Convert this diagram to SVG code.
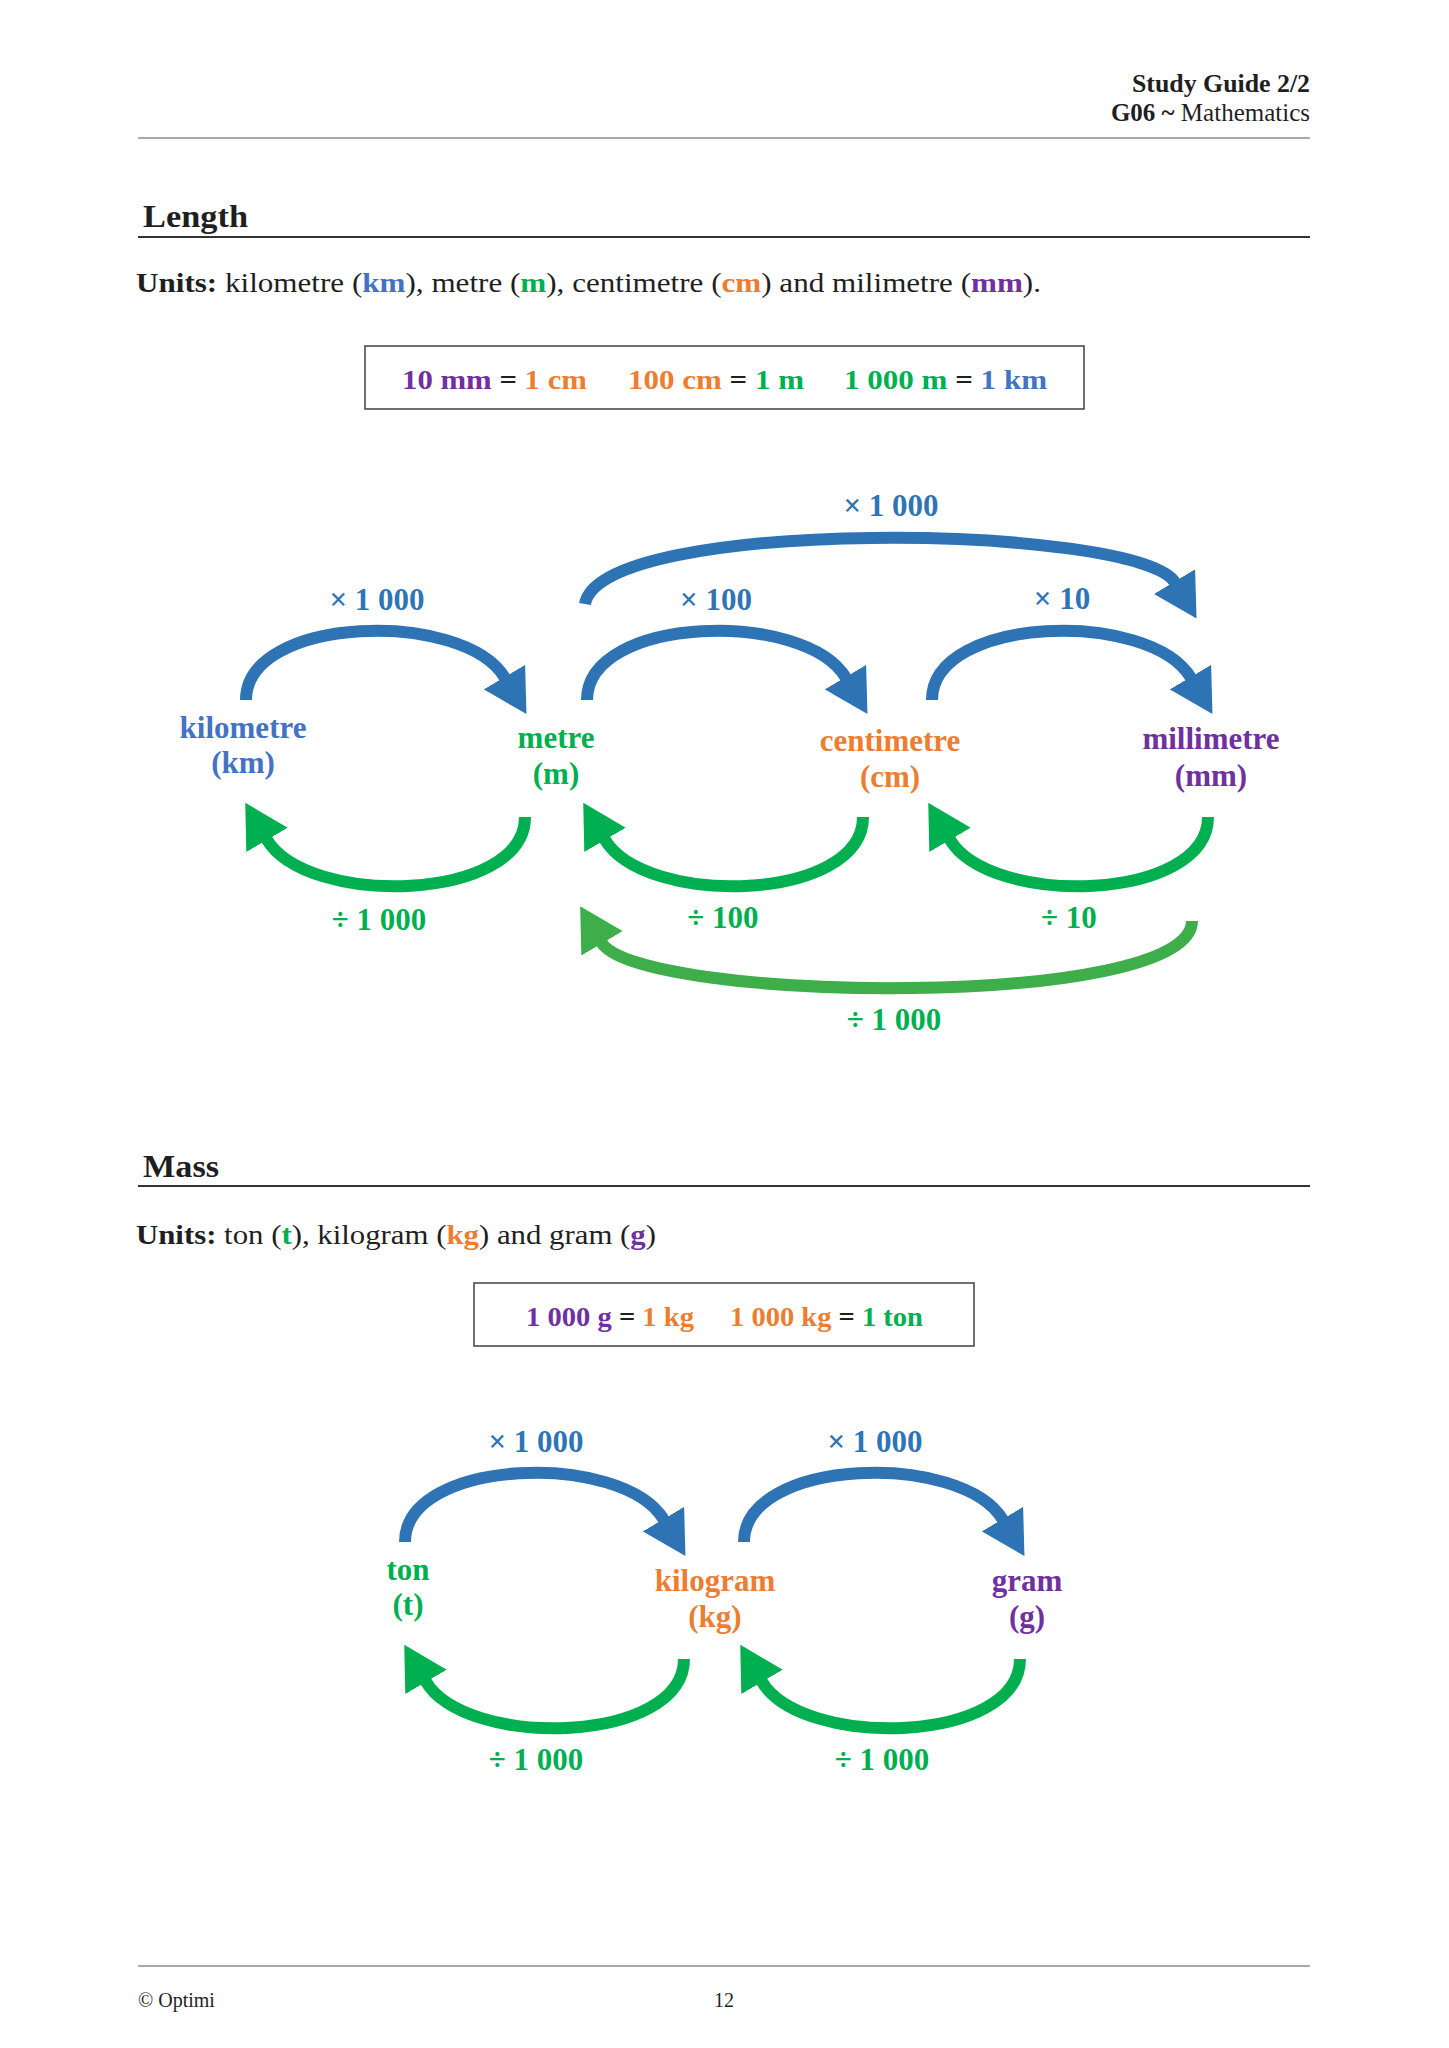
<svg xmlns="http://www.w3.org/2000/svg" width="1449" height="2048" viewBox="0 0 1449 2048">
<defs>
<style>
text{font-family:"Liberation Serif","Times New Roman",serif;fill:#1f1f1f}
.b{font-weight:bold}
.hdr{font-size:25px}
.h{font-size:32px;font-weight:bold}
.body{font-size:27px}
.box{font-size:28px;font-weight:bold}
.lbl{font-size:31px;font-weight:bold;text-anchor:middle}
.ft{font-size:20px}
.c-km{fill:#4472c4}
.c-m{fill:#00b050}
.c-cm{fill:#ed7d31}
.c-mm{fill:#7030a0}
.c-x{fill:#2e75b6}
.c-d{fill:#00b050}
.c-eq{fill:#1f1f1f}
.rule{stroke:#8c8c8c;stroke-width:1.5}
.hrule{stroke:#333333;stroke-width:1.8}
.frame{fill:none;stroke:#404040;stroke-width:1.5}
.arc-b{fill:none;stroke:#2e74b5;stroke-width:12;marker-end:url(#ah-b)}
.arc-g{fill:none;stroke:#00b050;stroke-width:12;marker-end:url(#ah-g)}
.arc-lg{fill:none;stroke:#3dae49;stroke-width:12;marker-end:url(#ah-lg)}
</style>
<marker id="ah-b" viewBox="0 -24 43 48" refX="1" refY="0" markerWidth="43" markerHeight="48" markerUnits="userSpaceOnUse" orient="auto"><path d="M0,-24 L43,0 L0,24 Z" fill="#2e74b5"/></marker>
<marker id="ah-g" viewBox="0 -24 43 48" refX="1" refY="0" markerWidth="43" markerHeight="48" markerUnits="userSpaceOnUse" orient="auto"><path d="M0,-24 L43,0 L0,24 Z" fill="#00b050"/></marker>
<marker id="ah-lg" viewBox="0 -24 43 48" refX="1" refY="0" markerWidth="43" markerHeight="48" markerUnits="userSpaceOnUse" orient="auto"><path d="M0,-24 L43,0 L0,24 Z" fill="#3dae49"/></marker>
</defs>
<rect x="0" y="0" width="1449" height="2048" fill="#ffffff"/>

<g id="header">
<text class="hdr b" x="1310" y="92" text-anchor="end" textLength="178" lengthAdjust="spacingAndGlyphs">Study Guide 2/2</text>
<text class="hdr" x="1310" y="121" text-anchor="end"><tspan class="b">G06 ~</tspan> Mathematics</text>
<line class="rule" x1="138" y1="138" x2="1310" y2="138"/>
</g>

<g id="length-intro">
<text class="h" x="143" y="227" textLength="105" lengthAdjust="spacingAndGlyphs">Length</text>
<line class="hrule" x1="138" y1="237" x2="1310" y2="237"/>
<text class="body" x="136" y="292" textLength="905" lengthAdjust="spacingAndGlyphs"><tspan class="b">Units:</tspan> kilometre (<tspan class="b c-km">km</tspan>), metre (<tspan class="b c-m">m</tspan>), centimetre (<tspan class="b c-cm">cm</tspan>) and milimetre (<tspan class="b c-mm">mm</tspan>).</text>
<rect class="frame" x="365" y="346" width="719" height="63"/>
<text class="box" x="402" y="389" textLength="185" lengthAdjust="spacingAndGlyphs"><tspan class="c-mm">10 mm</tspan> = <tspan class="c-cm">1 cm</tspan></text>
<text class="box" x="628" y="389" textLength="176" lengthAdjust="spacingAndGlyphs"><tspan class="c-cm">100 cm</tspan> = <tspan class="c-m">1 m</tspan></text>
<text class="box" x="844" y="389" textLength="203" lengthAdjust="spacingAndGlyphs"><tspan class="c-m">1 000 m</tspan> = <tspan class="c-km">1 km</tspan></text>
</g>

<g id="connectors">
<path id="e-km-m" class="arc-b" d="M246,700 C246,615 464,609 505,678"/>
<path id="e-m-cm" class="arc-b" d="M587,700 C587,615 805,609 846,678"/>
<path id="e-cm-mm" class="arc-b" d="M932,700 C932,615 1150,609 1191,678"/>
<path id="e-m-mm" class="arc-b" d="M585,604 C600,515 1140,524 1175,582.5"/>
<path id="e-m-km" class="arc-g" d="M525,817 C525,902 307,908 266.5,839"/>
<path id="e-cm-m" class="arc-g" d="M863,817 C863,902 645,908 604.5,839"/>
<path id="e-mm-cm" class="arc-g" d="M1208,817 C1208,902 990,908 949.5,839"/>
<path id="e-mm-m" class="arc-lg" d="M1192,921 C1192,1011 637,1002.7 601.5,942.5"/>
<path id="e-t-kg" class="arc-b" d="M405,1542 C405,1457 623,1451 664,1520"/>
<path id="e-kg-g" class="arc-b" d="M744,1542 C744,1457 962,1451 1003,1520"/>
<path id="e-kg-t" class="arc-g" d="M684,1659 C684,1744 466,1750 425.5,1681"/>
<path id="e-g-kg" class="arc-g" d="M1020,1659 C1020,1744 802,1750 761.5,1681"/>
<g id="connector-labels">
<text class="lbl c-x" x="377" y="610">× 1 000</text>
<text class="lbl c-x" x="716" y="610">× 100</text>
<text class="lbl c-x" x="1062" y="609">× 10</text>
<text class="lbl c-x" x="891" y="516">× 1 000</text>
<text class="lbl c-d" x="379" y="930">÷ 1 000</text>
<text class="lbl c-d" x="723" y="928">÷ 100</text>
<text class="lbl c-d" x="1069" y="928">÷ 10</text>
<text class="lbl c-d" x="894" y="1030">÷ 1 000</text>
<text class="lbl c-x" x="536" y="1452">× 1 000</text>
<text class="lbl c-x" x="875" y="1452">× 1 000</text>
<text class="lbl c-d" x="536" y="1770">÷ 1 000</text>
<text class="lbl c-d" x="882" y="1770">÷ 1 000</text>
</g>
</g>

<g id="node-km"><text class="lbl c-km" x="243" y="738">kilometre</text><text class="lbl c-km" x="243" y="773">(km)</text></g>
<g id="node-m"><text class="lbl c-m" x="556" y="748">metre</text><text class="lbl c-m" x="556" y="784">(m)</text></g>
<g id="node-cm"><text class="lbl c-cm" x="890" y="751">centimetre</text><text class="lbl c-cm" x="890" y="787">(cm)</text></g>
<g id="node-mm"><text class="lbl c-mm" x="1211" y="749">millimetre</text><text class="lbl c-mm" x="1211" y="786">(mm)</text></g>

<g id="mass-intro">
<text class="h" x="143" y="1177" textLength="76" lengthAdjust="spacingAndGlyphs">Mass</text>
<line class="hrule" x1="138" y1="1186" x2="1310" y2="1186"/>
<text class="body" x="136" y="1244" textLength="520" lengthAdjust="spacingAndGlyphs"><tspan class="b">Units:</tspan> ton (<tspan class="b c-m">t</tspan>), kilogram (<tspan class="b c-cm">kg</tspan>) and gram (<tspan class="b c-mm">g</tspan>)</text>
<rect class="frame" x="474" y="1283" width="500" height="63"/>
<text class="box" x="526" y="1326" textLength="168" lengthAdjust="spacingAndGlyphs"><tspan class="c-mm">1 000 g</tspan> = <tspan class="c-cm">1 kg</tspan></text>
<text class="box" x="730" y="1326" textLength="193" lengthAdjust="spacingAndGlyphs"><tspan class="c-cm">1 000 kg</tspan> = <tspan class="c-m">1 ton</tspan></text>
</g>

<g id="node-t"><text class="lbl c-m" x="408" y="1580">ton</text><text class="lbl c-m" x="408" y="1615">(t)</text></g>
<g id="node-kg"><text class="lbl c-cm" x="715" y="1591">kilogram</text><text class="lbl c-cm" x="715" y="1627">(kg)</text></g>
<g id="node-g"><text class="lbl c-mm" x="1027" y="1591">gram</text><text class="lbl c-mm" x="1027" y="1627">(g)</text></g>

<g id="footer">
<line class="rule" x1="138" y1="1966" x2="1310" y2="1966"/>
<text class="ft" x="138" y="2007">© Optimi</text>
<text class="ft" x="724" y="2007" text-anchor="middle">12</text>
</g>
</svg>
